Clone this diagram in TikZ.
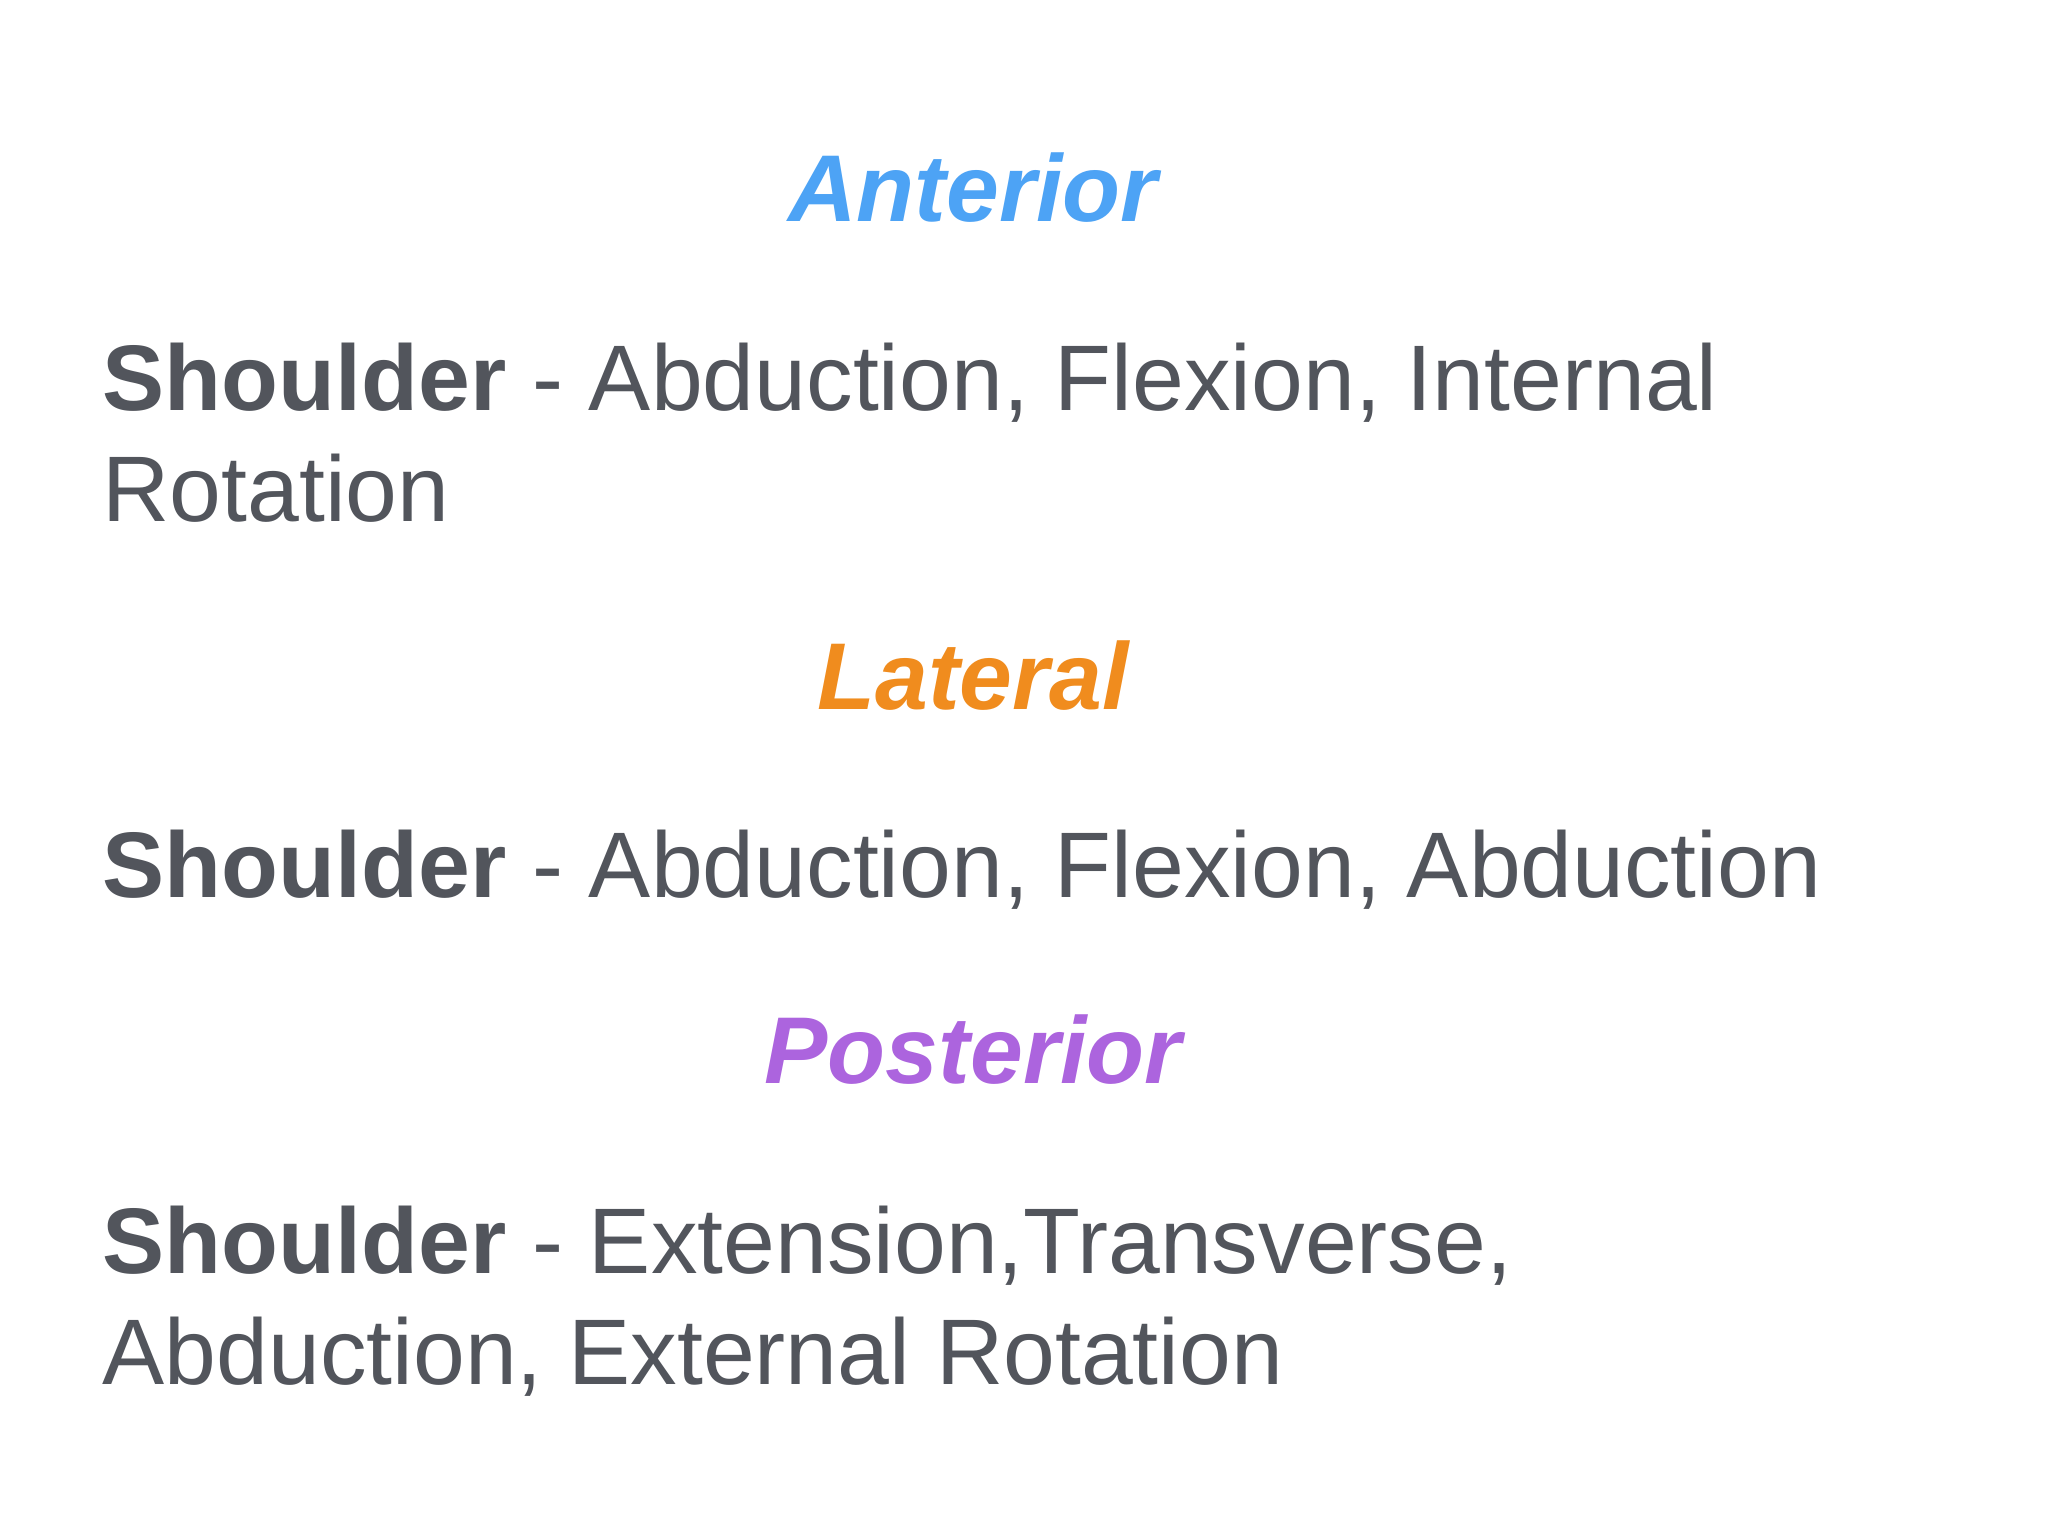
\documentclass[tikz,border=0pt]{standalone}
\usepackage{fontspec}
\setmainfont{Liberation Sans}
\usetikzlibrary{positioning}
\definecolor{txtgray}{RGB}{82,85,92}
\definecolor{antblue}{RGB}{77,163,245}
\definecolor{latorange}{RGB}{240,140,30}
\definecolor{postpurple}{RGB}{172,100,222}
\begin{document}
\begin{tikzpicture}[
	head/.style={
		anchor=base,
		inner sep=0pt,
		font=\fontsize{27}{32}\selectfont\bfseries\itshape
	},
	line/.style={
		anchor=base west,
		inner sep=0pt,
		text=txtgray,
		font=\fontsize{26.5}{31}\selectfont
	}
]
\useasboundingbox (0,0) rectangle (20.48,-15.36);
\fill[white] (0,0) rectangle (20.48,-15.36);

\node[head, text=antblue] (ANT) at (9.73,-2.22) {Anterior};
\node[line] (ANTA) at (1.02,-4.11) {\textbf{Shoulder} - Abduction, Flexion, Internal};
\node[line] (ANTB) at (1.02,-5.22) {Rotation};

\node[head, text=latorange] (LAT) at (9.73,-7.09) {Lateral};
\node[line] (LATA) at (1.02,-8.98) {\textbf{Shoulder} - Abduction, Flexion, Abduction};

\node[head, text=postpurple] (POST) at (9.73,-10.84) {Posterior};
\node[line] (POSTA) at (1.02,-12.73) {\textbf{Shoulder} - Extension,Transverse,};
\node[line] (POSTB) at (1.02,-13.84) {Abduction, External Rotation};

\end{tikzpicture}
\end{document}
